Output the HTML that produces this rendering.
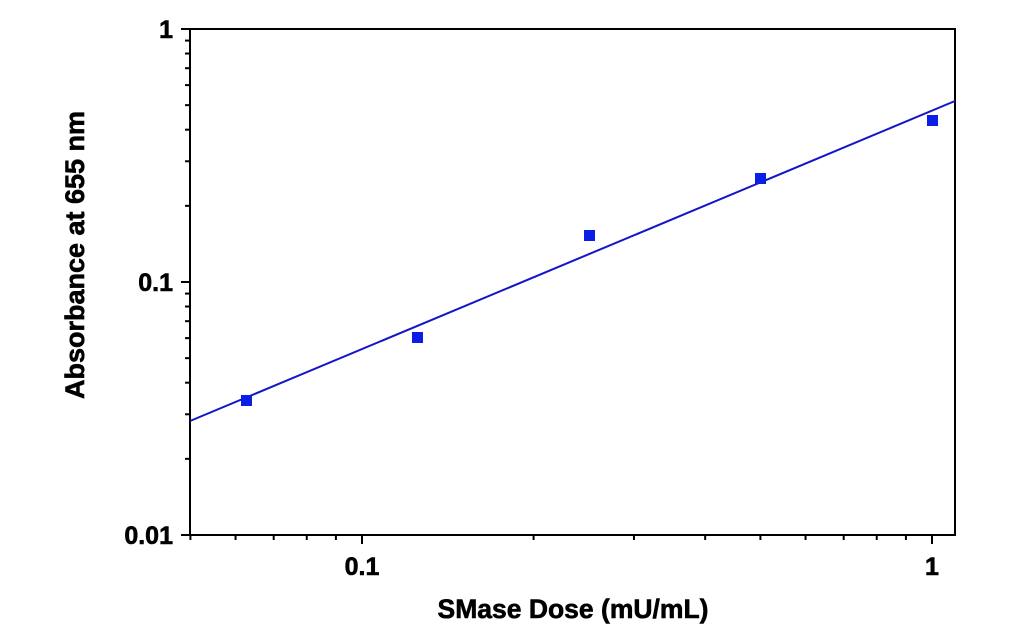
<!DOCTYPE html>
<html><head><meta charset="utf-8"><style>
html,body{margin:0;padding:0;background:#fff;}
svg{display:block;font-family:"Liberation Sans",Arial,sans-serif;font-weight:bold;}
</style></head><body>
<svg id="s" width="1013" height="639" viewBox="0 0 1013 639" xmlns="http://www.w3.org/2000/svg">
<rect x="190" y="29" width="765" height="506" fill="none" stroke="#000" stroke-width="2"/>
<g id="t" stroke="#000" stroke-width="2"></g>
<line x1="190" y1="421" x2="955" y2="101" stroke="#1515c8" stroke-width="2"/>
<g fill="#0a1ee6">
<rect x="241" y="395" width="11" height="11"/>
<rect x="412" y="332" width="11" height="11"/>
<rect x="584" y="230" width="11" height="11"/>
<rect x="755" y="173" width="11" height="11"/>
<rect x="927" y="115" width="11" height="11"/>
</g>
<g font-size="25" fill="#000" stroke="#000" stroke-width="0.6">
<text x="173" y="38" text-anchor="end">1</text>
<text x="173" y="291" text-anchor="end">0.1</text>
<text x="173" y="544" text-anchor="end">0.01</text>
<text x="362" y="575" text-anchor="middle">0.1</text>
<text x="932" y="575" text-anchor="middle">1</text>
<text x="573" y="618" text-anchor="middle" font-size="26.5">SMase Dose (mU/mL)</text>
<text transform="translate(84,255) rotate(-90)" text-anchor="middle" font-size="27">Absorbance at 655 nm</text>
</g>
</svg>
<script>
var g=document.getElementById('t'),h='';
function yv(v){return 535-(Math.log10(v)+2)*253;}
function xv(v){return 362+(Math.log10(v)+1)*570;}
for(var d=0.01;d<1.5;d*=10){for(var k=1;k<10;k++){var v=d*k;if(v>1.0001)break;var y=yv(v),L=k==1?9:5;h+='<line x1="'+(190-L)+'" y1="'+y+'" x2="190" y2="'+y+'"/>';}}
for(var d=0.01;d<2;d*=10){for(var k=1;k<10;k++){var v=d*k,x=xv(v);if(x<189||x>956)continue;var L=k==1?9:5;h+='<line x1="'+x+'" y1="535" x2="'+x+'" y2="'+(535+L)+'"/>';}}
g.innerHTML=h;
</script>
</body></html>
